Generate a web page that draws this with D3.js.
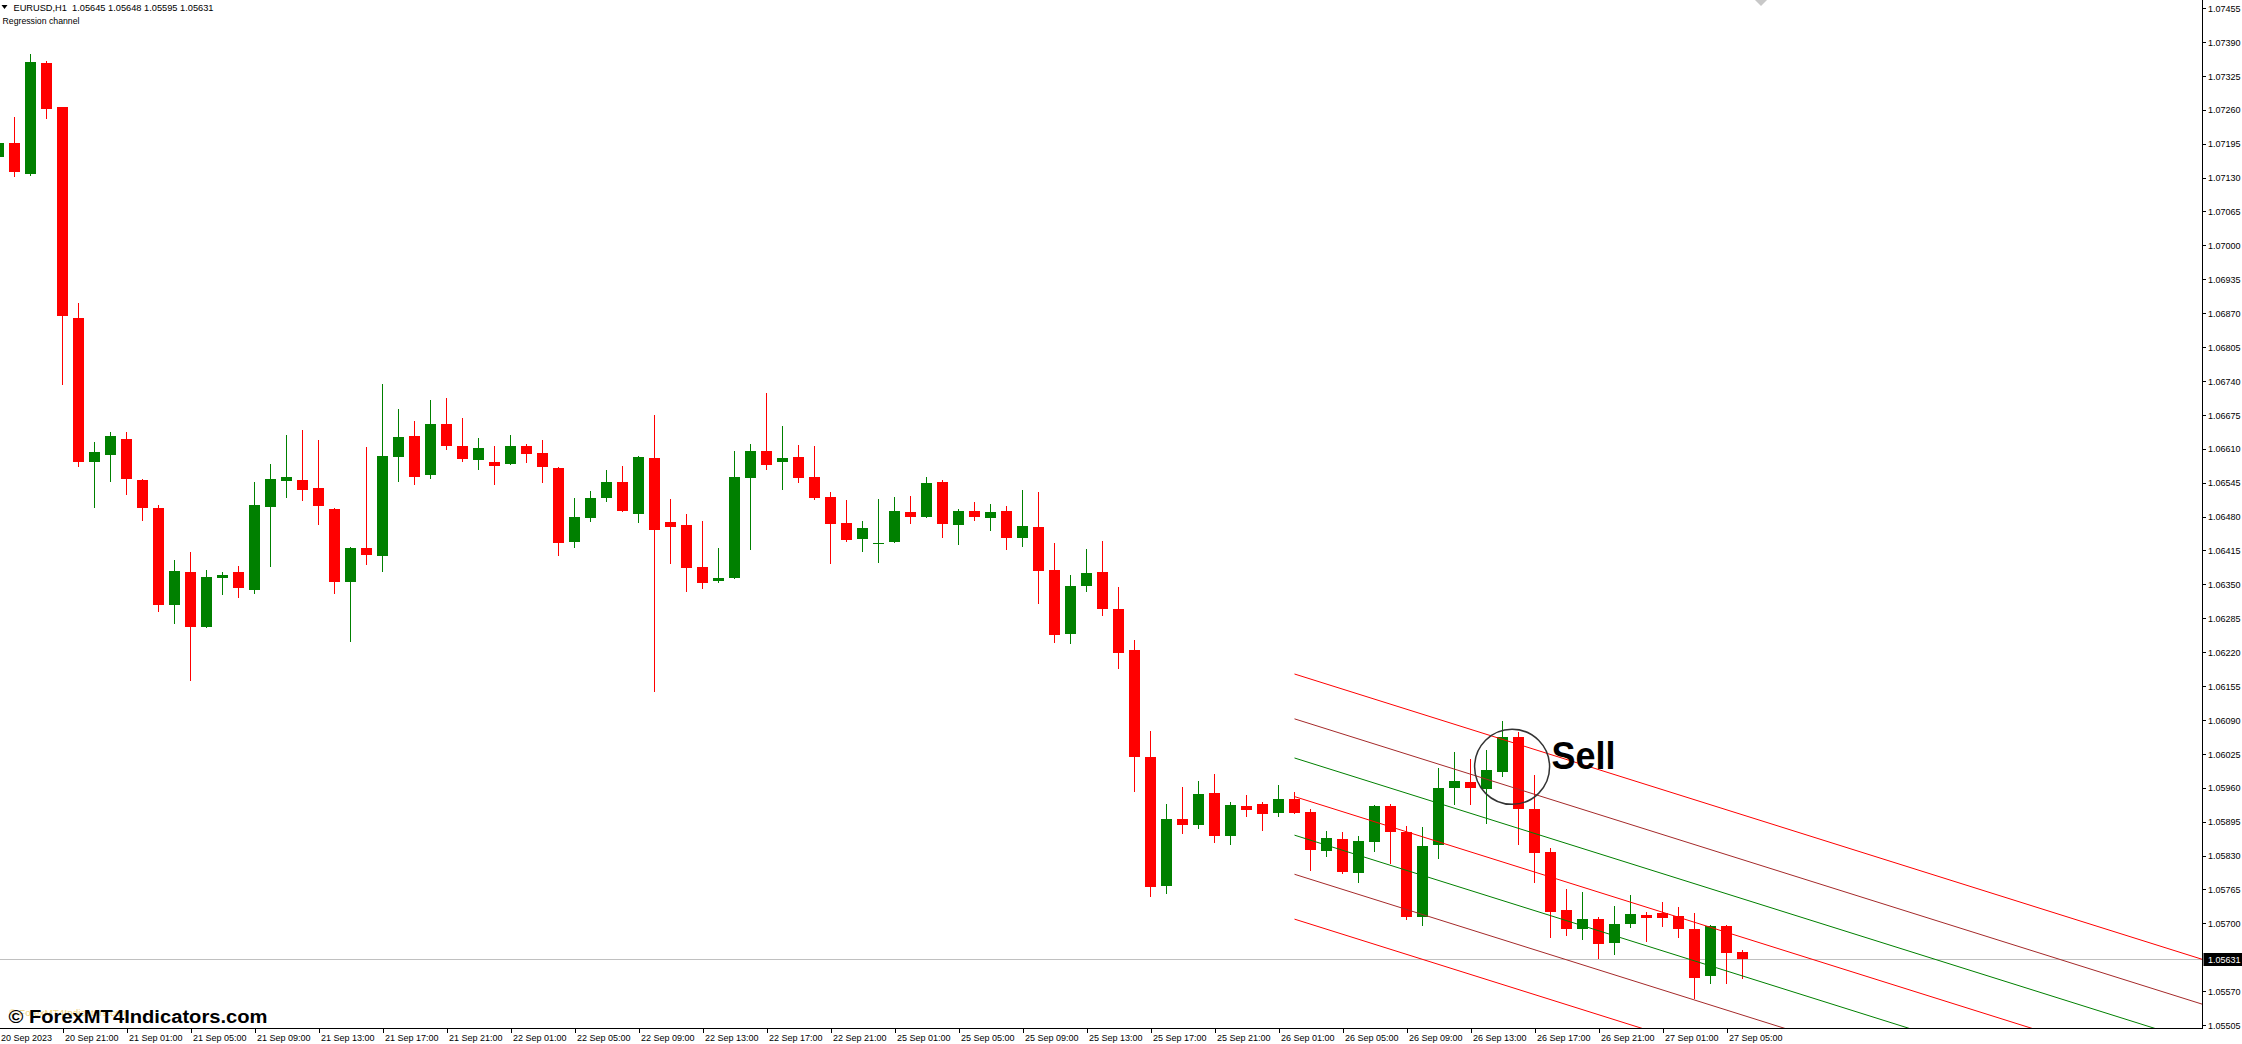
<!DOCTYPE html>
<html><head><meta charset="utf-8">
<script src="https://cdn.jsdelivr.net/npm/d3@7"></script>
<style>
html,body{margin:0;padding:0;background:#fff;overflow:hidden}
svg{display:block}
text{font-family:"Liberation Sans",Arial,sans-serif}
</style>
</head><body>
<svg id="c" width="2242" height="1044"></svg>
<script>
// ---------------- DATA ----------------
const open = [
1.07170,1.07196,1.07137,1.07350,1.07265,1.06861,1.06585,1.06598,1.06628,1.06550,
1.06496,1.06311,1.06374,1.06269,1.06363,1.06374,1.06340,1.06499,1.06549,1.06550,
1.06535,1.06494,1.06355,1.06420,1.06405,1.06595,1.06634,1.06560,1.06657,1.06615,
1.06589,1.06585,1.06581,1.06615,1.06602,1.06573,1.06432,1.06478,1.06516,1.06546,
1.06485,1.06592,1.06469,1.06464,1.06383,1.06357,1.06363,1.06554,1.06606,1.06585,
1.06594,1.06556,1.06517,1.06468,1.06437,1.06428,1.06432,1.06489,1.06480,1.06546,
1.06464,1.06491,1.06478,1.06491,1.06439,1.06460,1.06377,1.06255,1.06347,1.06374,
1.06303,1.06224,1.06019,1.05772,1.05900,1.05889,1.05950,1.05868,1.05925,1.05929,
1.05912,1.05939,1.05913,1.05839,1.05862,1.05797,1.05856,1.05925,1.05876,1.05713,
1.05851,1.05960,1.05971,1.05958,1.05991,1.06057,1.05920,1.05837,1.05725,1.05690,
1.05708,1.05663,1.05699,1.05716,1.05720,1.05714,1.05689,1.05598,1.05695,1.05645];
const high = [
1.07200,1.07246,1.07367,1.07353,1.07266,1.06889,1.06623,1.06642,1.06642,1.06552,
1.06502,1.06397,1.06412,1.06378,1.06374,1.06385,1.06546,1.06581,1.06636,1.06646,
1.06627,1.06496,1.06422,1.06613,1.06734,1.06686,1.06663,1.06703,1.06707,1.06669,
1.06631,1.06615,1.06636,1.06619,1.06627,1.06575,1.06515,1.06529,1.06569,1.06577,
1.06596,1.06675,1.06514,1.06485,1.06471,1.06420,1.06606,1.06619,1.06717,1.06654,
1.06617,1.06615,1.06527,1.06512,1.06471,1.06514,1.06517,1.06519,1.06556,1.06550,
1.06494,1.06508,1.06504,1.06500,1.06531,1.06527,1.06429,1.06368,1.06418,1.06433,
1.06345,1.06243,1.06069,1.05929,1.05961,1.05973,1.05986,1.05933,1.05946,1.05933,
1.05965,1.05952,1.05919,1.05877,1.05875,1.05867,1.05927,1.05929,1.05887,1.05885,
1.05998,1.06028,1.06015,1.06032,1.06088,1.06067,1.05984,1.05845,1.05766,1.05760,
1.05713,1.05734,1.05755,1.05722,1.05740,1.05732,1.05720,1.05697,1.05696,1.05648];
const low = [
1.07165,1.07133,1.07135,1.07245,1.06734,1.06577,1.06499,1.06549,1.06524,1.06474,
1.06298,1.06275,1.06167,1.06268,1.06332,1.06326,1.06334,1.06386,1.06518,1.06512,
1.06466,1.06334,1.06242,1.06388,1.06376,1.06549,1.06543,1.06554,1.06610,1.06587,
1.06572,1.06543,1.06581,1.06585,1.06547,1.06407,1.06422,1.06472,1.06510,1.06491,
1.06470,1.06146,1.06390,1.06338,1.06342,1.06355,1.06362,1.06418,1.06572,1.06533,
1.06547,1.06514,1.06390,1.06433,1.06414,1.06393,1.06431,1.06468,1.06479,1.06441,
1.06428,1.06474,1.06455,1.06418,1.06424,1.06315,1.06240,1.06238,1.06338,1.06292,
1.06190,1.05954,1.05753,1.05759,1.05874,1.05883,1.05855,1.05853,1.05906,1.05878,
1.05906,1.05911,1.05803,1.05830,1.05797,1.05780,1.05839,1.05816,1.05709,1.05697,
1.05826,1.05929,1.05929,1.05893,1.05983,1.05853,1.05780,1.05674,1.05678,1.05669,
1.05634,1.05642,1.05692,1.05667,1.05694,1.05674,1.05557,1.05586,1.05586,1.05595];
const close = [
1.07196,1.07141,1.07351,1.07262,1.06865,1.06584,1.06604,1.06635,1.06551,1.06497,
1.06311,1.06376,1.06269,1.06364,1.06368,1.06343,1.06502,1.06552,1.06556,1.06531,
1.06501,1.06355,1.06420,1.06407,1.06596,1.06632,1.06556,1.06657,1.06616,1.06591,
1.06611,1.06577,1.06615,1.06600,1.06574,1.06430,1.06479,1.06515,1.06546,1.06491,
1.06594,1.06455,1.06460,1.06382,1.06353,1.06362,1.06556,1.06606,1.06579,1.06592,
1.06554,1.06516,1.06466,1.06434,1.06458,1.06429,1.06491,1.06480,1.06544,1.06466,
1.06491,1.06480,1.06489,1.06439,1.06462,1.06376,1.06253,1.06347,1.06372,1.06303,
1.06219,1.06018,1.05770,1.05900,1.05889,1.05948,1.05868,1.05927,1.05918,1.05910,
1.05938,1.05912,1.05841,1.05864,1.05799,1.05858,1.05925,1.05876,1.05713,1.05848,
1.05959,1.05973,1.05960,1.05994,1.06057,1.05920,1.05835,1.05722,1.05690,1.05708,
1.05661,1.05699,1.05718,1.05710,1.05710,1.05690,1.05596,1.05695,1.05644,1.05631];

const timeLabels = ["20 Sep 2023","20 Sep 21:00","21 Sep 01:00","21 Sep 05:00","21 Sep 09:00","21 Sep 13:00","21 Sep 17:00","21 Sep 21:00","22 Sep 01:00","22 Sep 05:00","22 Sep 09:00","22 Sep 13:00","22 Sep 17:00","22 Sep 21:00","25 Sep 01:00","25 Sep 05:00","25 Sep 09:00","25 Sep 13:00","25 Sep 17:00","25 Sep 21:00","26 Sep 01:00","26 Sep 05:00","26 Sep 09:00","26 Sep 13:00","26 Sep 17:00","26 Sep 21:00","27 Sep 01:00","27 Sep 05:00"];
const timeLabelBars = [0,4,8,12,16,20,24,28,32,36,40,44,48,52,56,60,64,68,72,76,80,84,88,92,96,100,104,108];

const priceTicks = [1.07455,1.07390,1.07325,1.07260,1.07195,1.07130,1.07065,1.07000,1.06935,1.06870,1.06805,1.06740,1.06675,1.06610,1.06545,1.06480,1.06415,1.06350,1.06285,1.06220,1.06155,1.06090,1.06025,1.05960,1.05895,1.05830,1.05765,1.05700,1.05570,1.05505];
const lastPrice = 1.05631;

const channelStartBar = 81, channelStartPrice = 1.05943;
const channelEndBar = 109, channelEndPrice = 1.05673;
const channelDevs = [0.00074, 0.00149, 0.00235];

const headerText = "EURUSD,H1  1.05645 1.05648 1.05595 1.05631";
const indicatorName = "Regression channel";
const signalText = "Sell";
const signalBar = 94.6, signalPrice = 1.06000;
const watermark = "\u00A9 ForexMT4Indicators.com";

// ---------------- LAYOUT ----------------
const W = 2242, H = 1044;
const plotRight = 2202.5, plotBottom = 1028.5;
const BULL = "#008000", BEAR = "#FF0000", BROWN = "#A52A2A";

const svg = d3.select("#c");
const x = d3.scaleLinear().domain([0, 109]).range([-1.5, 1742.5]);
const y = d3.scaleLinear().domain([1.05505, 1.07455]).range([1025, 8]);

svg.append("rect").attr("width", W).attr("height", H).attr("fill", "#fff");

const defs = svg.append("defs");
defs.append("clipPath").attr("id", "plot").append("rect")
  .attr("x", 0).attr("y", 0).attr("width", 2202).attr("height", 1028);

const plot = svg.append("g").attr("clip-path", "url(#plot)");

// current price line
const yl = Math.round(y(lastPrice)) + 0.5;
plot.append("line").attr("x1", 0).attr("x2", 2202).attr("y1", yl).attr("y2", yl)
  .attr("stroke", "#C0C0C0").attr("stroke-width", 1);

// candles
const bars = d3.range(open.length);
const cg = plot.append("g").attr("shape-rendering", "crispEdges");
bars.forEach(i => {
  const col = close[i] >= open[i] ? BULL : BEAR;
  const cx = x(i);
  const yh = Math.round(y(high[i])), ylo = Math.round(y(low[i]));
  cg.append("rect").attr("x", cx - 0.5).attr("y", yh).attr("width", 1)
    .attr("height", Math.max(1, ylo - yh + 1)).attr("fill", col);
  const yt = Math.round(y(Math.max(open[i], close[i])));
  const yb = Math.round(y(Math.min(open[i], close[i])));
  cg.append("rect").attr("x", cx - 5.5).attr("y", yt).attr("width", 11)
    .attr("height", Math.max(1, yb - yt)).attr("fill", col);
});

// regression channel
const slope = (channelEndPrice - channelStartPrice) / (channelEndBar - channelStartBar);
const endBar = x.invert(2203);
const chLines = [
  {k: 3, c: BEAR}, {k: 2, c: BROWN}, {k: 1, c: BULL}, {k: 0, c: BEAR},
  {k: -1, c: BULL}, {k: -2, c: BROWN}, {k: -3, c: BEAR}
];
const line = d3.line().x(d => x(d[0])).y(d => y(d[1]));
chLines.forEach(l => {
  const off = l.k === 0 ? 0 : Math.sign(l.k) * channelDevs[Math.abs(l.k) - 1];
  const pts = [channelStartBar, endBar].map(b => [b, channelStartPrice + slope * (b - channelStartBar) + off]);
  plot.append("path").attr("d", line(pts)).attr("fill", "none")
    .attr("stroke", l.c).attr("stroke-width", 1);
});

// signal circle + text
const sx = x(signalBar), sy = y(signalPrice);
svg.append("circle").attr("cx", sx).attr("cy", sy).attr("r", 37.5)
  .attr("fill", "none").attr("stroke", "#333").attr("stroke-width", 1.5);
svg.append("text").attr("x", sx + 39.5).attr("y", sy + 2.5)
  .attr("font-size", 38).attr("font-weight", "bold").attr("fill", "#000")
  .attr("textLength", 64).attr("lengthAdjust", "spacingAndGlyphs")
  .text(signalText);

// frame lines
svg.append("line").attr("x1", plotRight).attr("x2", plotRight).attr("y1", 0).attr("y2", plotBottom + 0.5)
  .attr("stroke", "#000").attr("stroke-width", 1);
svg.append("line").attr("x1", 0).attr("x2", plotRight).attr("y1", plotBottom).attr("y2", plotBottom)
  .attr("stroke", "#000").attr("stroke-width", 1);

// right price axis
const yAxis = d3.axisRight(y).tickValues(priceTicks).tickSize(3).tickSizeOuter(0)
  .tickFormat(d3.format(".5f"));
const gy = svg.append("g").attr("transform", `translate(${plotRight},0)`).call(yAxis);
gy.select(".domain").remove();
gy.selectAll(".tick line").attr("stroke", "#000").attr("shape-rendering", "crispEdges");
gy.selectAll(".tick text").attr("x", 5.5).attr("dy", "0.36em")
  .attr("font-size", 9).attr("font-family", "Liberation Sans, Arial, sans-serif").attr("fill", "#000");

// price box
svg.append("rect").attr("x", plotRight + 1).attr("y", yl - 6.5).attr("width", 39).attr("height", 13).attr("fill", "#000");
svg.append("text").attr("x", plotRight + 5.5).attr("y", yl).attr("dy", "0.36em")
  .attr("font-size", 9).attr("fill", "#fff").text(d3.format(".5f")(lastPrice));

// bottom time axis
const xAxis = d3.axisBottom(x).tickValues(timeLabelBars).tickSize(4).tickSizeOuter(0)
  .tickFormat((d, i) => timeLabels[i]);
const gx = svg.append("g").attr("transform", `translate(0,${plotBottom})`).call(xAxis);
gx.select(".domain").remove();
gx.selectAll(".tick line").attr("stroke", "#000").attr("shape-rendering", "crispEdges");
gx.selectAll(".tick text").attr("text-anchor", "start").attr("x", (d, i) => i === 0 ? 2 : 2)
  .attr("y", 12.5).attr("dy", null)
  .attr("font-size", 9).attr("font-family", "Liberation Sans, Arial, sans-serif").attr("fill", "#000");

// header
svg.append("path").attr("d", "M1.5,5 L7.5,5 L4.5,9 Z").attr("fill", "#000");
svg.append("text").attr("x", 13.5).attr("y", 10.5).attr("font-size", 9).attr("fill", "#000")
  .style("white-space", "pre").attr("textLength", 200).attr("lengthAdjust", "spacingAndGlyphs")
  .text(headerText);
svg.append("text").attr("x", 2.5).attr("y", 23.5).attr("font-size", 9).attr("fill", "#000")
  .attr("textLength", 77).attr("lengthAdjust", "spacingAndGlyphs")
  .text(indicatorName);

// chart shift marker
svg.append("path").attr("d", "M1755,0 L1767,0 L1761,6 Z").attr("fill", "#C8C8C8");

// watermark
svg.append("text").attr("x", 9).attr("y", 1016).attr("font-size", 8.5).attr("fill", "#E8C040")
  .attr("opacity", 0.7).attr("textLength", 120).attr("lengthAdjust", "spacingAndGlyphs").text(watermark);
svg.append("text").attr("x", 8.5).attr("y", 1022.5).attr("font-size", 18).attr("font-weight", "bold")
  .attr("fill", "#000").attr("textLength", 259).attr("lengthAdjust", "spacingAndGlyphs").text(watermark);
</script>
</body></html>
